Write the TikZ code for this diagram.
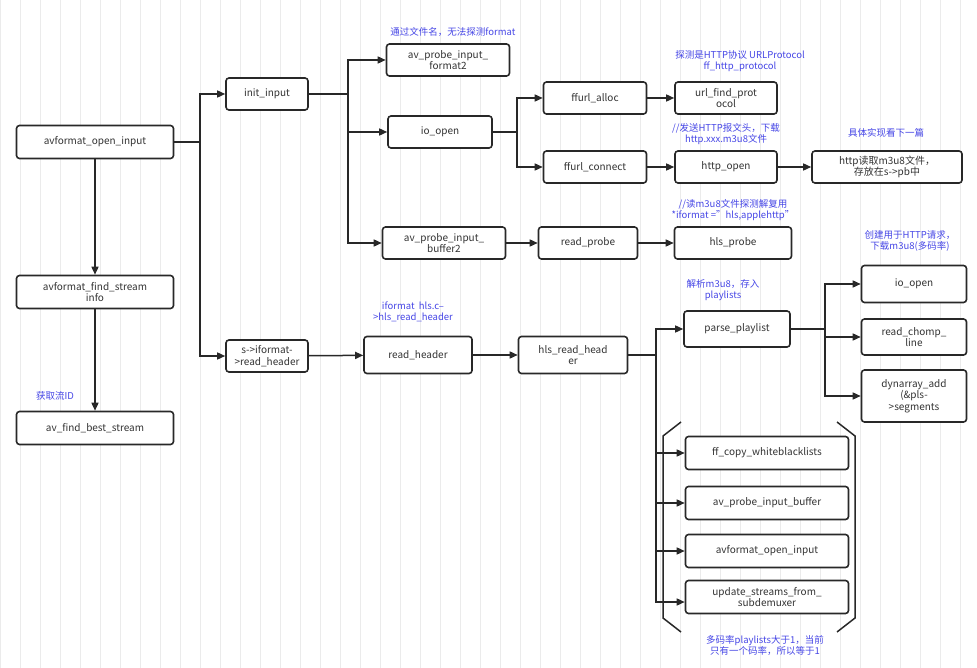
\documentclass[tikz,border=0pt]{standalone}
\usepackage{fontspec}
\setmainfont{Noto Sans CJK SC}
\usetikzlibrary{arrows.meta}
\definecolor{ln}{RGB}{40,40,40}
\definecolor{bl}{RGB}{70,70,230}
\begin{document}
\begin{tikzpicture}[x=1pt,y=-1pt,
  box/.style={draw=ln,line width=1.6pt,rounded corners=3pt,fill=white,align=center,inner sep=1pt,font=\fontsize{10}{11.5}\selectfont,text=black!80},
  lab/.style={text=bl,align=center,font=\fontsize{9.5}{11}\selectfont,inner sep=0pt},
  arr/.style={draw=ln,line width=1.5pt,-{Triangle[length=8pt,width=7pt]}},
  ln/.style={draw=ln,line width=1.5pt}]
\useasboundingbox (0,0) rectangle (977,668);
\fill[white] (0,0) rectangle (977,668);
\draw[black!8,line width=0.5pt,step=20] (0,0) grid (977,668);
\newcommand{\bx}[7]{\node[box,minimum width=#3,minimum height=#4] (#1) at (#5,#6) {#7};}
\bx{a}{}{157}{33}{95}{142}{avformat\_open\_input}
\bx{b}{}{157}{33}{95}{292}{avformat\_find\_stream\\info}
\bx{c}{}{157}{33}{95}{428}{av\_find\_best\_stream}
\bx{ii}{}{82}{32}{267}{94}{init\_input}
\bx{rh}{}{82}{32}{267}{356}{s->iformat-\\>read\_header}
\bx{pf}{}{123}{32}{448}{60}{av\_probe\_input\_\\format2}
\bx{io}{}{104}{32}{440}{132}{io\_open}
\bx{pb}{}{123}{32}{444}{243}{av\_probe\_input\_\\buffer2}
\bx{fa}{}{103}{32}{595}{98}{ffurl\_alloc}
\bx{fc}{}{103}{32}{595}{167}{ffurl\_connect}
\bx{uf}{}{102}{32}{726}{98}{url\_find\_prot\\ocol}
\bx{ho}{}{102}{32}{726}{167}{http\_open}
\bx{hr}{}{150}{32}{887}{167}{http读取m3u8文件，\\存放在s->pb中}
\bx{rp}{}{99}{32}{588}{243}{read\_probe}
\bx{hp}{}{117}{32}{733}{243}{hls\_probe}
\bx{rd}{}{108}{37}{418}{355}{read\_header}
\bx{hh}{}{109}{37}{573}{355}{hls\_read\_head\\er}
\bx{pp}{}{106}{36}{737}{329}{parse\_playlist}
\bx{io2}{}{105}{37}{914}{284}{io\_open}
\bx{rc}{}{105}{36}{914}{337}{read\_chomp\_\\line}
\bx{da}{}{105}{52}{914}{396}{dynarray\_add\\(\&pls-\\>segments}
\bx{f1}{}{163}{33}{767}{453}{ff\_copy\_whiteblacklists}
\bx{f2}{}{163}{33}{767}{503}{av\_probe\_input\_buffer}
\bx{f3}{}{163}{33}{767}{551}{avformat\_open\_input}
\bx{f4}{}{163}{33}{767}{597}{update\_streams\_from\_\\subdemuxer}
% labels
\node[lab] (l1) at (453,32) {通过文件名，无法探测format};
\node[lab] (l2) at (740,61) {探测是HTTP协议 URLProtocol\\ff\_http\_protocol};
\node[lab] (l3) at (726,134) {//发送HTTP报文头，下载\\http.xxx.m3u8文件};
\node[lab] (l4) at (886,133) {具体实现看下一篇};
\node[lab] (l5) at (733,210) {//读m3u8文件探测解复用\\*iformat ="hls,applehttp"};
\node[lab] (l6) at (910,241) {创建用于HTTP请求，\\下载m3u8(多码率)};
\node[lab] (l7) at (723,290) {解析m3u8，存入\\playlists};
\node[lab] (l8) at (413,312) {iformat\ \ hls.c--\\>hls\_read\_header};
\node[lab] (l9) at (55,396) {获取流ID};
\node[lab] (l10) at (765,645) {多码率playlists大于1，当前\\只有一个码率，所以等于1};
% connectors
\draw[arr] (a) -- (b);
\draw[arr] (b) -- (c);
\draw[arr] (a.east) -| (200,94) -- (ii);
\draw[arr] (a.east) -| (200,356) -- (rh);
\draw[arr] (ii.east) -| (348,60) -- (pf);
\draw[arr] (ii.east) -| (348,132) -- (io);
\draw[arr] (ii.east) -| (348,243) -- (pb);
\draw[arr] (io.east) -| (517,98) -- (fa);
\draw[arr] (io.east) -| (517,167) -- (fc);
\draw[arr] (fa) -- (uf);
\draw[arr] (fc) -- (ho);
\draw[arr] (ho) -- (hr);
\draw[arr] (pb) -- (rp);
\draw[arr] (rp) -- (hp);
\draw[arr] (rh) -- (rd);
\draw[arr] (rd) -- (hh);
\draw[arr] (hh.east) -| (656,329) -- (pp);
\foreach \n/\y in {f1/453,f2/503,f3/551,f4/602}
  \draw[arr] (hh.east) -| (656,\y) -- (\n.west|-0,\y);
\draw[arr] (pp.east) -| (825,284) -- (io2);
\draw[arr] (pp.east) -| (825,337) -- (rc);
\draw[arr] (pp.east) -| (825,396) -- (da);
% brackets
\draw[ln] (681,422) -- (663,436) -- (663,618) -- (681,632);
\draw[ln] (837,422) -- (855,436) -- (855,618) -- (837,632);
\end{tikzpicture}
\end{document}
